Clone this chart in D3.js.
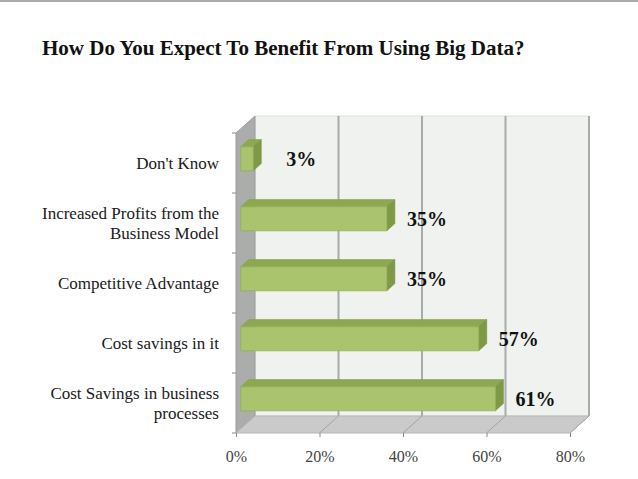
<!DOCTYPE html>
<html>
<head>
<meta charset="utf-8">
<script src="https://cdn.jsdelivr.net/npm/d3@7"></script>
<style>
  body { margin: 0; background: #fff; }
  text { font-family: "Liberation Serif", serif; }
</style>
</head>
<body>
<div id="chart"></div>
<script>
var categories = ["Don't Know", "Increased Profits from the\nBusiness Model", "Competitive Advantage",
                  "Cost savings in it", "Cost Savings in business\nprocesses"];
var values = [3, 35, 35, 57, 61];
var xTicks = [0, 20, 40, 60, 80];

var width = 638, height = 479;
var DX = 19, DY = -17;          // depth of the 3D box
var barT0 = 0.25, barT1 = 0.67; // bar depth inside the box

var svg = d3.select("#chart").append("svg")
    .attr("width", width)
    .attr("height", height);

var x = d3.scaleLinear().domain([0, 80]).range([236, 570]);
var y = d3.scaleBand().domain(categories).range([133, 433])
    .paddingInner(0.6).paddingOuter(0.3);

var top0 = y.range()[0], bot0 = y.range()[1];
function pt(v, yy, t) { return [x(v) + t * DX, yy + t * DY]; }
function poly(pts) { return "M" + pts.map(p => p.join(",")).join("L") + "Z"; }

// thin rule on top edge
svg.append("rect").attr("x", 0).attr("y", 0).attr("width", width).attr("height", 2).attr("fill", "#a9a9a9");

svg.append("text")
    .attr("x", 42).attr("y", 55)
    .style("font-size", "21px").style("font-weight", "bold").attr("fill", "#111")
    .text("How Do You Expect To Benefit From Using Big Data?");

// back wall
svg.append("path")
    .attr("d", poly([pt(0, top0, 1), pt(80, top0, 1), pt(80, bot0, 1), pt(0, bot0, 1)]))
    .attr("fill", "#eff2ee").attr("stroke", "#dfe2de");

// left wall
svg.append("path")
    .attr("d", poly([pt(0, top0, 0), pt(0, top0, 1), pt(0, bot0, 1), pt(0, bot0, 0)]))
    .attr("fill", "#abadab").attr("stroke", "#9a9c9a");

// floor
svg.append("path")
    .attr("d", poly([pt(0, bot0, 0), pt(80, bot0, 0), pt(80, bot0, 1), pt(0, bot0, 1)]))
    .attr("fill", "#c9cac9").attr("stroke", "#b5b6b5");

// gridlines on back wall and floor
var grid = svg.append("g");
grid.selectAll("path.wall").data(xTicks.slice(1)).enter().append("path")
    .attr("d", d => "M" + pt(d, top0, 1) + "L" + pt(d, bot0, 1))
    .attr("stroke", "#a8aca8").attr("stroke-width", 2);
grid.selectAll("path.floor").data(xTicks.slice(1)).enter().append("path")
    .attr("d", d => "M" + pt(d, bot0, 1) + "L" + pt(d, bot0, 0))
    .attr("stroke", "#a3a5a3").attr("stroke-width", 1);

// bars
var bars = svg.append("g").selectAll("g").data(categories).enter().append("g");
bars.each(function(c, i) {
  var g = d3.select(this), v = values[i];
  var y0 = y(c), y1 = y(c) + y.bandwidth();
  g.append("path")
      .attr("d", poly([pt(0, y0, barT0), pt(0, y0, barT1), pt(v, y0, barT1), pt(v, y0, barT0)]))
      .attr("fill", "#8ea852").attr("stroke", "#86a04a").attr("stroke-width", 0.6);
  g.append("path")
      .attr("d", poly([pt(v, y0, barT0), pt(v, y0, barT1), pt(v, y1, barT1), pt(v, y1, barT0)]))
      .attr("fill", "#7f9a46").attr("stroke", "#76903f").attr("stroke-width", 0.6);
  g.append("path")
      .attr("d", poly([pt(0, y0, barT0), pt(v, y0, barT0), pt(v, y1, barT0), pt(0, y1, barT0)]))
      .attr("fill", "#a9c46c").attr("stroke", "#94ae5a").attr("stroke-width", 0.8);
  var c0 = pt(v, (y0 + y1) / 2, barT0);
  g.append("text")
      .attr("x", c0[0] + (v < 10 ? 33 : 20)).attr("y", c0[1]).attr("dy", "0.35em")
      .style("font-size", "20px").style("font-weight", "bold").attr("fill", "#111")
      .text(v + "%");
});

// category tick marks
svg.append("g").selectAll("line").data(d3.range(categories.length + 1)).enter().append("line")
    .attr("x1", x(0) - 4).attr("x2", x(0))
    .attr("y1", i => top0 + i * y.step()).attr("y2", i => top0 + i * y.step())
    .attr("stroke", "#888");

// category labels
svg.append("g").selectAll("text").data(categories).enter().append("text")
    .attr("x", 219)
    .attr("y", d => y(d) + y.bandwidth() / 2)
    .style("font-size", "17px").attr("fill", "#1a1a1a").attr("text-anchor", "end")
    .each(function(d) {
      var lines = d.split("\n"), t = d3.select(this);
      lines.forEach(function(l, k) {
        t.append("tspan").attr("x", 219)
            .attr("dy", k === 0 ? (0.35 - (lines.length - 1) * 0.59) + "em" : "1.18em")
            .text(l);
      });
    });

// x axis
var xAxis = svg.append("g")
    .attr("transform", "translate(0," + bot0 + ")")
    .call(d3.axisBottom(x).tickValues(xTicks).tickFormat(d => d + "%").tickSize(4).tickPadding(14));
xAxis.select(".domain").remove();
xAxis.selectAll("line").attr("stroke", "#888");
xAxis.selectAll("text").style("font-size", "16px").style("font-family", "Liberation Serif, serif").attr("fill", "#444");
</script>
</body>
</html>
